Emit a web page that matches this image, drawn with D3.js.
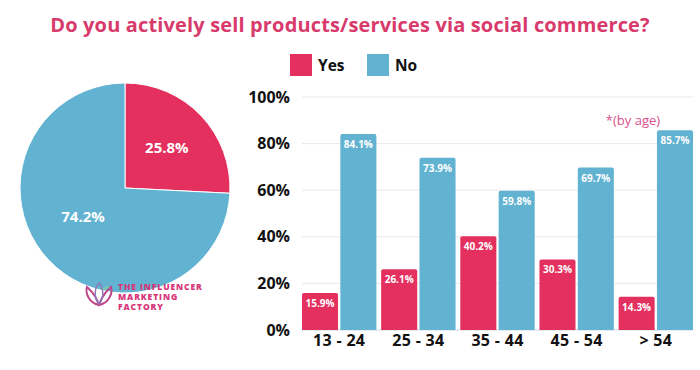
<!DOCTYPE html>
<html>
<head>
<meta charset="utf-8">
<script src="https://cdn.jsdelivr.net/npm/d3@7"></script>
<style>
  body { margin: 0; background: #fff; }
  svg { display: block; font-family: "Open Sans", "DejaVu Sans", sans-serif; }
</style>
</head>
<body>
<svg width="700" height="370"></svg>
<script>
// data
var pieLabels = ['Yes', 'No'];
var pieValues = [25.8, 74.2];
var ageGroups = ['13 - 24', '25 - 34', '35 - 44', '45 - 54', '> 54'];
var yesValues = [15.9, 26.1, 40.2, 30.3, 14.3];
var noValues = [84.1, 73.9, 59.8, 69.7, 85.7];
var yTicks = [0, 20, 40, 60, 80, 100];

var pink = '#e3305f';
var blue = '#62b3d1';
var titlePink = '#d83a6c';

var svg = d3.select('svg');

// title
svg.append('text')
  .attr('x', 350).attr('y', 32)
  .attr('text-anchor', 'middle')
  .attr('font-size', 20).attr('font-weight', 700)
  .attr('letter-spacing', 0.15)
  .attr('fill', titlePink)
  .text('Do you actively sell products/services via social commerce?');

// ---- pie
var pieG = svg.append('g').attr('transform', 'translate(125,188)');
var r = 105;
var pie = d3.pie().sort(null)(pieValues);
var arc = d3.arc().innerRadius(0).outerRadius(r);
pieG.selectAll('path').data(pie).enter().append('path')
  .attr('d', arc)
  .attr('fill', function (d, i) { return i == 0 ? pink : blue; })
  .attr('stroke', '#fff').attr('stroke-width', 1);

var labelArc = d3.arc().innerRadius(r * 0.55).outerRadius(r * 0.55);
pieG.selectAll('text').data(pie).enter().append('text')
  .attr('transform', function (d, i) {
    var c = labelArc.centroid(d);
    if (i == 1) c = [-42, 29];
    return 'translate(' + c[0] + ',' + c[1] + ')';
  })
  .attr('text-anchor', 'middle').attr('dy', '0.35em')
  .attr('font-size', 15).attr('font-weight', 700).attr('fill', '#fff')
  .text(function (d) { return d.data.toFixed(1) + '%'; });

// logo
var logo = svg.append('g').attr('transform', 'translate(85,283)');
logo.append('path')
  .attr('d', 'M14,22 C4,20 0,10 2,4 C6,8 10,10 14,22 Z')
  .attr('fill', 'none').attr('stroke', '#c0458a').attr('stroke-width', 2);
logo.append('path')
  .attr('d', 'M14,22 C24,20 28,10 26,4 C22,8 18,10 14,22 Z')
  .attr('fill', 'none').attr('stroke', '#c0458a').attr('stroke-width', 2);
logo.append('path')
  .attr('d', 'M14,21 C8,14 10,4 14,0 C18,4 20,14 14,21 Z')
  .attr('fill', 'none').attr('stroke', '#8a7bb8').attr('stroke-width', 1.5);
logo.append('path')
  .attr('d', 'M18,6 L24,4')
  .attr('stroke', '#7fc9a8').attr('stroke-width', 2);
var logoLines = ['THE INFLUENCER', 'MARKETING', 'FACTORY'];
svg.append('g').selectAll('text').data(logoLines).enter().append('text')
  .attr('x', 118)
  .attr('y', function (d, i) { return 290 + i * 10; })
  .attr('font-size', 8.5).attr('font-weight', 800)
  .attr('letter-spacing', 0.9)
  .attr('fill', '#d8367a')
  .text(function (d) { return d; });

// ---- bars
var x0 = d3.scaleBand().domain(ageGroups).range([302, 693]).paddingInner(0.06).paddingOuter(0);
var x1 = d3.scaleBand().domain(['Yes', 'No']).range([0, x0.bandwidth()]).paddingInner(0.06);
var y = d3.scaleLinear().domain([0, 100]).range([330, 97]);

var grid = svg.append('g');
grid.selectAll('line').data(yTicks).enter().append('line')
  .attr('x1', 302).attr('x2', 693)
  .attr('y1', function (d) { return y(d); })
  .attr('y2', function (d) { return y(d); })
  .attr('stroke', function (d) { return d == 0 ? '#c9dde6' : '#e8e8e8'; })
  .attr('stroke-width', 1);

var yAxis = d3.axisLeft(y).tickValues(yTicks).tickSize(0).tickPadding(0)
  .tickFormat(function (d) { return d + '%'; });
var ya = svg.append('g').attr('transform', 'translate(290,0)').call(yAxis);
ya.select('.domain').remove();
ya.selectAll('text').attr('font-size', 16).attr('font-weight', 700).attr('fill', '#111')
  .attr('font-family', '"Open Sans", sans-serif');

var xAxis = d3.axisBottom(x0).tickSize(0).tickPadding(0);
var xa = svg.append('g').attr('transform', 'translate(0,335)').call(xAxis);
xa.select('.domain').remove();
xa.selectAll('text').attr('font-size', 16).attr('font-weight', 700).attr('fill', '#111')
  .attr('letter-spacing', 0.3)
  .attr('font-family', '"Open Sans", sans-serif');

var rows = ageGroups.map(function (g, i) {
  return [{ g: g, k: 'Yes', v: yesValues[i] }, { g: g, k: 'No', v: noValues[i] }];
});
var groups = svg.append('g').selectAll('g').data(rows).enter().append('g')
  .attr('transform', function (d) { return 'translate(' + x0(d[0].g) + ',0)'; });

groups.selectAll('path').data(function (d) { return d; }).enter().append('path')
  .attr('d', function (d) {
    var bx = x1(d.k), bw = x1.bandwidth(), by = y(d.v), b = y(0), rr = 2;
    return 'M' + bx + ',' + b + 'V' + (by + rr) + 'Q' + bx + ',' + by + ' ' + (bx + rr) + ',' + by +
      'H' + (bx + bw - rr) + 'Q' + (bx + bw) + ',' + by + ' ' + (bx + bw) + ',' + (by + rr) + 'V' + b + 'Z';
  })
  .attr('fill', function (d) { return d.k == 'Yes' ? pink : blue; });

groups.selectAll('text').data(function (d) { return d; }).enter().append('text')
  .attr('x', function (d) { return x1(d.k) + x1.bandwidth() / 2; })
  .attr('y', function (d) { return y(d.v) + 14; })
  .attr('text-anchor', 'middle')
  .attr('font-size', 10).attr('font-weight', 700).attr('fill', '#fff')
  .text(function (d) { return d.v.toFixed(1) + '%'; });

// legend
var legend = svg.append('g').selectAll('g').data(pieLabels).enter().append('g')
  .attr('transform', function (d, i) { return 'translate(' + (290 + i * 77) + ',54)'; });
legend.append('rect').attr('width', 22).attr('height', 22)
  .attr('fill', function (d, i) { return i == 0 ? pink : blue; });
legend.append('text').attr('x', 28).attr('y', 16.5)
  .attr('font-size', 15.5).attr('font-weight', 700).attr('fill', '#111')
  .text(function (d) { return d; });

// note
svg.append('text')
  .attr('x', 633).attr('y', 125)
  .attr('text-anchor', 'middle')
  .attr('font-size', 13).attr('fill', '#d8508a')
  .text('*(by age)');
</script>
</body>
</html>
